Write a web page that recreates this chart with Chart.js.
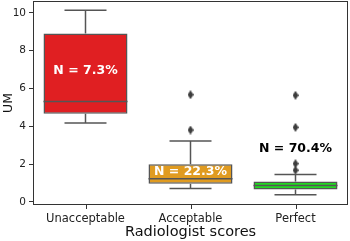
<!DOCTYPE html>
<html lang="en">
<head>
  <meta charset="UTF-8" />
  <title>UM by radiologist score</title>
  <script src="https://cdn.jsdelivr.net/npm/chart.js"></script>
  <style>
    html, body { margin: 0; padding: 0; background: #fff; overflow: hidden; }
    canvas { display: block; }
  </style>
</head>
<body>
  <canvas id="chart" width="350" height="241"></canvas>

  <script>
  // dados
  const categorias = ['Unacceptable', 'Acceptable', 'Perfect'];
  const q1 = [4.66, 0.95, 0.65];
  const mediana = [5.31, 1.22, 0.86];
  const q3 = [8.91, 1.99, 1.07];
  const bigodeMin = [4.17, 0.70, 0.37];
  const bigodeMax = [10.14, 3.22, 1.44];
  const outliers = [
    { x: 'Acceptable', y: 5.67 },
    { x: 'Acceptable', y: 3.80 },
    { x: 'Perfect', y: 5.64 },
    { x: 'Perfect', y: 3.94 },
    { x: 'Perfect', y: 2.02 },
    { x: 'Perfect', y: 1.67 }
  ];
  const rotulos = ['N = 7.3%', 'N = 22.3%', 'N = 70.4%'];
  const yTicks = [0, 2, 4, 6, 8, 10];

  const cores = ['#e01f22', '#e09b20', '#22d822'];
  const cinza = '#555555';
  const fonte = 'DejaVu Sans';

  // losango fino (marcador 'd' do seaborn)
  const losango = document.createElement('canvas');
  losango.width = 6; losango.height = 9;
  {
    const c = losango.getContext('2d');
    c.fillStyle = '#3d3d3d';
    c.beginPath();
    c.moveTo(3, 0); c.lineTo(6, 4.5); c.lineTo(3, 9); c.lineTo(0, 4.5);
    c.closePath(); c.fill();
  }

  // bigodes, medianas, moldura, marcas do eixo x e textos
  const boxPlugin = {
    id: 'boxExtras',
    afterDatasetsDraw(chart) {
      const { ctx, chartArea: a, scales: { x, y } } = chart;
      const larg = x.getPixelForValue(1) - x.getPixelForValue(0);
      const meiaCaixa = larg * 0.4;
      const meiaCap = larg * 0.2;
      const linha = (x1, y1, x2, y2) => {
        ctx.beginPath(); ctx.moveTo(x1, y1); ctx.lineTo(x2, y2); ctx.stroke();
      };
      ctx.save();
      ctx.strokeStyle = cinza;
      ctx.lineWidth = 1.5;
      categorias.forEach((c, i) => {
        const cx = x.getPixelForValue(i);
        linha(cx, y.getPixelForValue(q3[i]), cx, y.getPixelForValue(bigodeMax[i]));
        linha(cx, y.getPixelForValue(q1[i]), cx, y.getPixelForValue(bigodeMin[i]));
        linha(cx - meiaCap, y.getPixelForValue(bigodeMax[i]), cx + meiaCap, y.getPixelForValue(bigodeMax[i]));
        linha(cx - meiaCap, y.getPixelForValue(bigodeMin[i]), cx + meiaCap, y.getPixelForValue(bigodeMin[i]));
        linha(cx - meiaCaixa, y.getPixelForValue(mediana[i]), cx + meiaCaixa, y.getPixelForValue(mediana[i]));
      });

      // moldura
      ctx.strokeStyle = '#333';
      ctx.lineWidth = 1;
      ctx.strokeRect(a.left + 0.5, a.top + 0.5, a.right - a.left - 1, a.bottom - a.top - 1);
      categorias.forEach((c, i) => {
        const cx = Math.round(x.getPixelForValue(i)) + 0.5;
        linha(cx, a.bottom, cx, a.bottom + 4);
      });

      // rótulos N
      const posY = [6.92, 1.61, 2.82];
      const corTexto = ['#fff', '#fff', '#000'];
      ctx.font = 'bold 12.5px "' + fonte + '"';
      ctx.textAlign = 'center';
      ctx.textBaseline = 'middle';
      rotulos.forEach((t, i) => {
        ctx.fillStyle = corTexto[i];
        ctx.fillText(t, x.getPixelForValue(i), y.getPixelForValue(posY[i]));
      });
      ctx.restore();
    }
  };

  new Chart(document.getElementById('chart'), {
    type: 'bar',
    data: {
      labels: categorias,
      datasets: [
        {
          type: 'bar',
          data: categorias.map((c, i) => [q1[i], q3[i]]),
          backgroundColor: cores,
          borderColor: cinza,
          borderWidth: 1.5,
          borderSkipped: false,
          barPercentage: 0.8,
          categoryPercentage: 1
        },
        {
          type: 'line',
          data: outliers,
          showLine: false,
          pointStyle: losango,
          pointRadius: 4
        }
      ]
    },
    options: {
      responsive: false,
      animation: false,
      layout: { autoPadding: false, padding: { top: 1, right: 2, left: 1, bottom: 0 } },
      plugins: {
        legend: { display: false },
        tooltip: { enabled: false }
      },
      scales: {
        x: {
          type: 'category',
          offset: true,
          grid: { display: true, drawOnChartArea: false, tickLength: 4, color: 'rgba(0,0,0,0)' },
          border: { display: false },
          ticks: { color: '#222', font: { family: fonte, size: 11.5 }, padding: 3 },
          title: { display: true, text: 'Radiologist scores', color: '#111', font: { family: fonte, size: 14.5 }, padding: 0 },
          afterFit: s => { s.height = 36; s.paddingLeft = 0; s.paddingRight = 0; }
        },
        y: {
          min: -0.17,
          max: 10.63,
          grid: { display: true, drawOnChartArea: false, tickLength: 4, color: '#333' },
          border: { display: false },
          afterBuildTicks: s => { s.ticks = yTicks.map(v => ({ value: v })); },
          ticks: { color: '#222', font: { family: fonte, size: 10.5 }, padding: 3 },
          title: { display: true, text: 'UM', color: '#111', font: { family: fonte, size: 12.5 }, padding: 0 },
          afterFit: s => { s.width = 32; s.paddingTop = 0; s.paddingBottom = 0; }
        }
      }
    },
    plugins: [boxPlugin]
  });
  </script>
</body>
</html>
